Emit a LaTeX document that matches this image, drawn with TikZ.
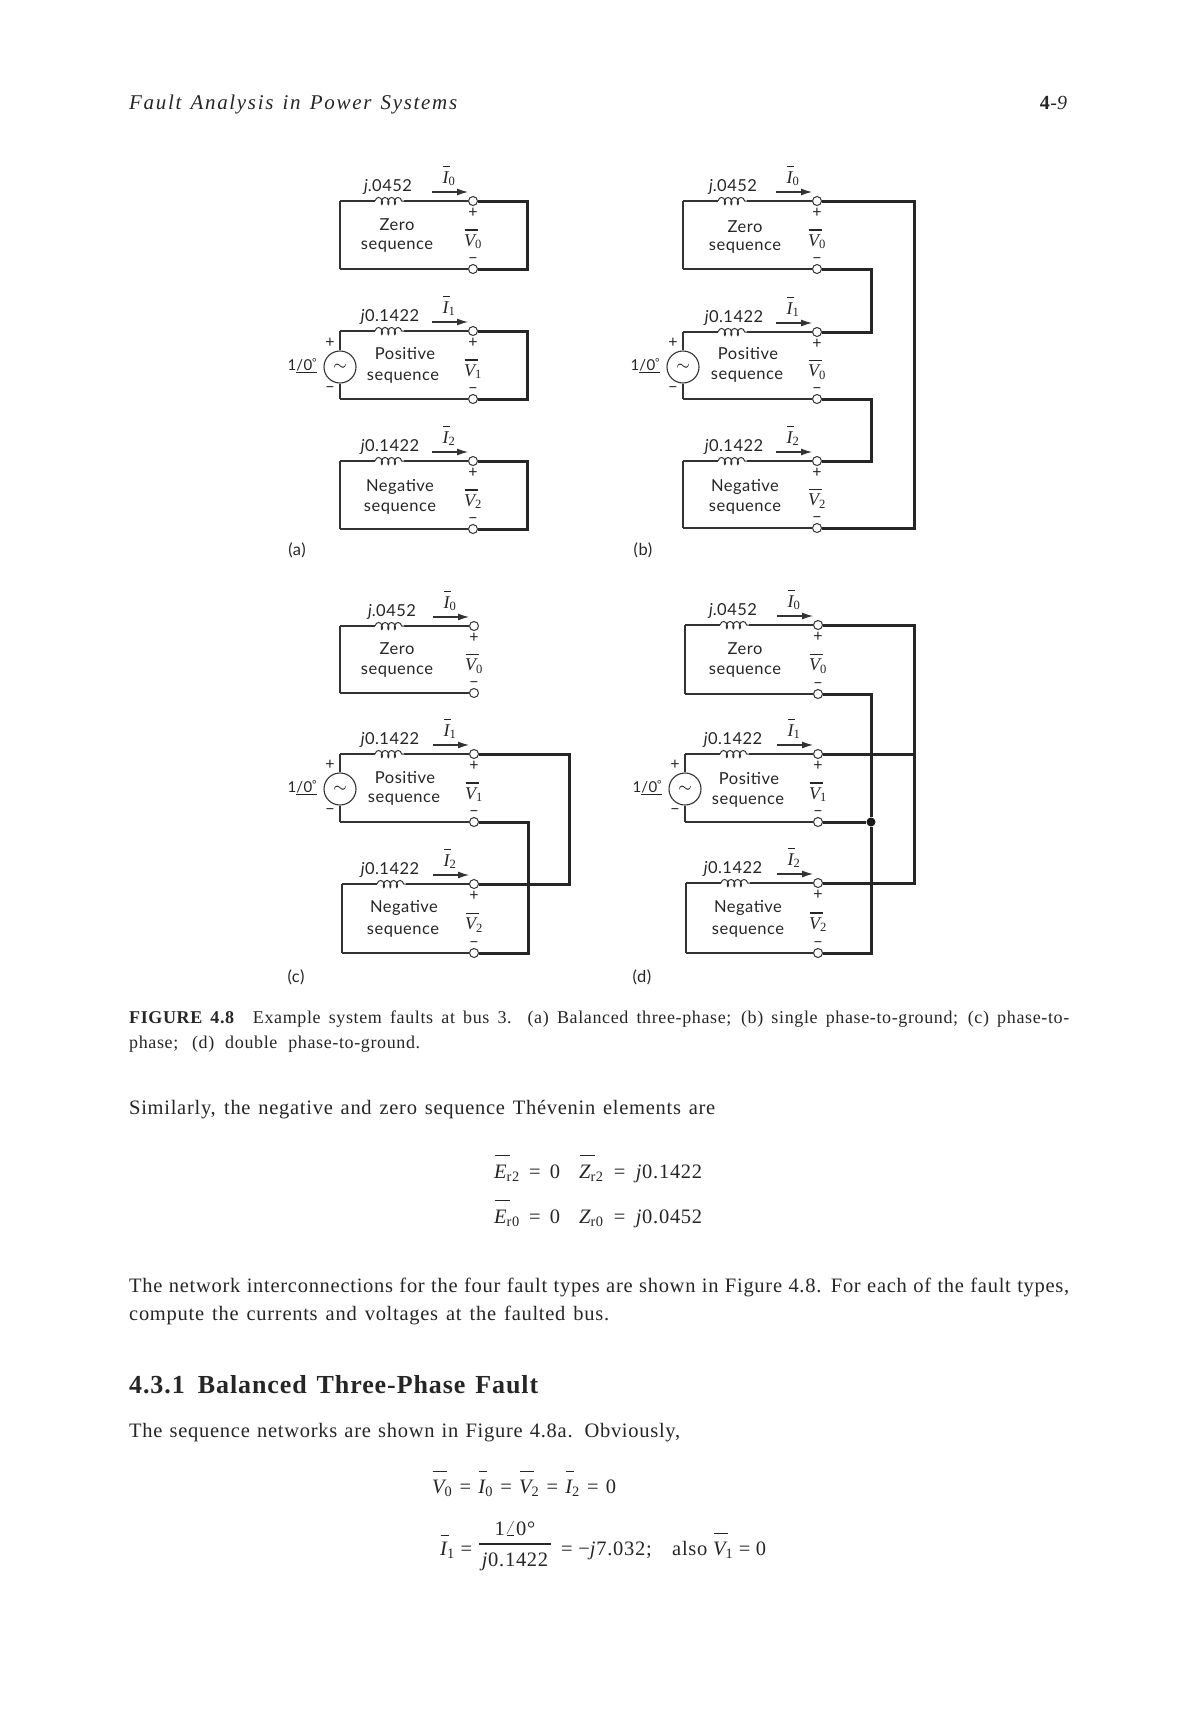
\documentclass[tikz,border=0pt]{standalone}
\usepackage{fontspec}
\setmainfont[LetterSpace=3.5]{Liberation Serif}
\newfontfamily\figfont[LetterSpace=3]{Lato}
\usetikzlibrary{arrows.meta,decorations.pathmorphing}
\tikzset{
  wire/.style={line width=1.1pt,draw=black!80},
  faultwire/.style={line width=3pt,draw=black!85,line join=miter},
  coilwire/.style={line width=1pt,draw=black!80,decorate,decoration={coil,aspect=0.55,segment length=6.5pt,amplitude=3.6pt}},
  terminal/.style={circle,draw=black!80,fill=white,line width=1pt,minimum size=9pt,inner sep=0pt},
  sourcenode/.style={circle,draw=black!80,fill=white,line width=1.1pt,minimum size=32pt,inner sep=0pt,font=\figfont\fontsize{16}{16}\selectfont},
  currentarrow/.style={line width=1.2pt,draw=black!80,-{Latex[length=11pt,width=7pt]}},
  figlabel/.style={font=\figfont\fontsize{16.5}{17}\selectfont,inner sep=0pt,text=black!85},
  valuelabel/.style={font=\figfont\fontsize{16.5}{17}\selectfont,inner sep=0pt,text=black!85},
  symlabel/.style={font=\fontsize{18}{18}\selectfont,inner sep=0pt,text=black!85,anchor=base},
  signlabel/.style={font=\figfont\fontsize{16}{16}\selectfont,inner sep=0pt,text=black!85},
  bodytext/.style={font=\fontsize{20.5}{20}\selectfont,anchor=base west,inner sep=0pt,text=black!85},
  captext/.style={font=\fontsize{18}{18}\selectfont,anchor=base west,inner sep=0pt,text=black!85},
  headtext/.style={font=\bfseries\fontsize{26}{26}\selectfont,anchor=base west,inner sep=0pt,text=black!85},
  mathtext/.style={font=\fontsize{20.5}{20}\selectfont,anchor=base west,inner sep=0pt,text=black!85},
  fracrule/.style={line width=1.2pt,draw=black!85},
}
% bar height, bar width, letter
\newcommand{\barsym}[3]{\rlap{\hspace{0.5pt}\raisebox{#1}{\rule{#2}{1.2pt}}}{\itshape #3}}
% id, left, terminal x, top y, bottom y, impedance, impedance x, I subscript, V subscript
\newcommand{\seqnet}[9]{%
  \node[terminal] (#1t) at (#3,#4) {};
  \node[terminal] (#1b) at (#3,#5) {};
  \coordinate (#1tl) at (#2,#4);
  \coordinate (#1bl) at (#2,#5);
  \coordinate (#1cs) at (#2+35,#4);
  \coordinate (#1ce) at (#2+64,#4);
  \coordinate (#1as) at (#3-41,#4-9);
  \coordinate (#1ae) at (#3-5,#4-9);
  \draw[wire] (#1tl) -- (#1cs);
  \draw[coilwire] (#1cs) -- (#1ce);
  \draw[wire] (#1ce) -- (#1t);
  \draw[wire] (#1bl) -- (#1b);
  \draw[currentarrow] (#1as) -- (#1ae);
  \node[valuelabel] (#1z) at (#7,#4-14) {#6};
  \node[symlabel] (#1i) at (#3-24,#4-18) {\barsym{16pt}{7pt}{I}\textsubscript{#8}};
  \node[signlabel] (#1p) at (#3,#4+12) {+};
  \node[symlabel] (#1v) at (#3+0,#4/2+#5/2+11) {\barsym{15.5pt}{13pt}{V}\textsubscript{#9}};
  \node[signlabel] (#1m) at (#3,#5-8) {\char"2212};
}
\newcommand{\closeleft}[1]{\draw[wire] (#1tl) -- (#1bl);}
\newcommand{\withsource}[3]{% id, left, ymid
  \node[sourcenode] (#1s) at (#2,#3) {$\sim$};
  \draw[wire] (#1tl) -- (#1s);
  \draw[wire] (#1bl) -- (#1s);
  \node[signlabel] (#1sp) at (#2-10,#3-24) {+};
  \node[signlabel] (#1sm) at (#2-10,#3+23) {\char"2212};
  \node[valuelabel,anchor=base east,font=\figfont\fontsize{15}{15}\selectfont] (#1sv) at (#2-23,#3+3) {1\underline{/0\raisebox{4pt}{\fontsize{11}{11}\selectfont°}}};
}
\newcommand{\seqwords}[6]{% id, word, x,y, x2,y2
  \node[figlabel] (#1w) at (#3,#4) {#2};
  \node[figlabel] (#1q) at (#5,#6) {sequence};
}
\begin{document}
\begin{tikzpicture}[x=1pt,y=-1pt]
\useasboundingbox (0,0) rectangle (1200,1714);
\fill[white] (0,0) rectangle (1200,1714);
% header
\node[bodytext,font=\itshape\fontsize{21}{21}\selectfont\addfontfeature{LetterSpace=8}] (hdr) at (129,109) {\makebox[328pt][s]{Fault Analysis in Power Systems}};
\node[bodytext,anchor=base east,font=\fontsize{20}{20}\selectfont] (pg) at (1068,109) {\textbf{4}-\textit{9}};
% panel a
\seqnet{a0}{340}{473}{201}{269}{\textit{j}.0452}{388}{0}{0}
\closeleft{a0}
\seqwords{a0}{Zero}{397}{225}{397}{247}
\seqnet{a1}{340}{473}{331}{399}{\textit{j}0.1422}{390}{1}{1}
\withsource{a1}{340}{367}
\seqwords{a1}{Positive}{405}{354}{403}{378}
\seqnet{a2}{340}{473}{461}{529}{\textit{j}0.1422}{390}{2}{2}
\closeleft{a2}
\seqwords{a2}{Negative}{400}{487}{400}{509}
\coordinate (aR0) at (527,235);
\coordinate (aR1) at (527,365);
\coordinate (aR2) at (527,495);
\draw[faultwire] (a0t) -| (aR0) |- (a0b);
\draw[faultwire] (a1t) -| (aR1) |- (a1b);
\draw[faultwire] (a2t) -| (aR2) |- (a2b);
\node[figlabel] (alab) at (297,550) {(a)};
% panel b
\seqnet{b0}{683}{817}{201}{269}{\textit{j}.0452}{733}{0}{0}
\closeleft{b0}
\seqwords{b0}{Zero}{745}{227}{745}{248}
\seqnet{b1}{683}{817}{332}{399}{\textit{j}0.1422}{734}{1}{0}
\withsource{b1}{683}{367}
\seqwords{b1}{Positive}{748}{354}{747}{377}
\seqnet{b2}{683}{817}{461}{528}{\textit{j}0.1422}{734}{2}{2}
\closeleft{b2}
\seqwords{b2}{Negative}{745}{487}{745}{509}
\coordinate (bO) at (914,360);
\coordinate (bI1) at (871,300);
\coordinate (bI2) at (871,430);
\draw[faultwire] (b0t) -| (bO) |- (b2b);
\draw[faultwire] (b0b) -| (bI1) |- (b1t);
\draw[faultwire] (b1b) -| (bI2) |- (b2t);
\node[figlabel] (blab) at (643,550) {(b)};
% panel c
\seqnet{c0}{340}{474}{626}{693}{\textit{j}.0452}{392}{0}{0}
\closeleft{c0}
\seqwords{c0}{Zero}{397}{649}{397}{672}
\seqnet{c1}{340}{474}{754}{822}{\textit{j}0.1422}{390}{1}{1}
\withsource{c1}{340}{789}
\seqwords{c1}{Positive}{405}{778}{404}{800}
\seqnet{c2}{342}{474}{884}{953}{\textit{j}0.1422}{390}{2}{2}
\closeleft{c2}
\seqwords{c2}{Negative}{404}{908}{403}{932}
\coordinate (cO) at (569,820);
\coordinate (cI) at (528,890);
\draw[faultwire] (c1t) -| (cO) |- (c2t);
\draw[faultwire] (c1b) -| (cI) |- (c2b);
\node[figlabel] (clab) at (296,977) {(c)};
% panel d
\seqnet{d0}{685}{818}{625}{694}{\textit{j}.0452}{733}{0}{0}
\closeleft{d0}
\seqwords{d0}{Zero}{745}{649}{745}{672}
\seqnet{d1}{685}{818}{754}{822}{\textit{j}0.1422}{733}{1}{1}
\withsource{d1}{685}{789}
\seqwords{d1}{Positive}{749}{779}{748}{802}
\seqnet{d2}{686}{818}{883}{953}{\textit{j}0.1422}{733}{2}{2}
\closeleft{d2}
\seqwords{d2}{Negative}{748}{908}{748}{932}
\coordinate (dO) at (914,760);
\node[circle,fill=black!90,minimum size=9pt,inner sep=0pt] (dJ) at (871,822) {};
\draw[faultwire] (d0t) -| (dO);
\draw[faultwire] (dO) |- (d2t);
\draw[faultwire] (d1t) -- (dO |- d1t);
\draw[faultwire] (d0b) -| (dJ);
\draw[faultwire] (dJ) |- (d2b);
\draw[faultwire] (d1b) -- (dJ);
\node[figlabel] (dlab) at (642,977) {(d)};
% caption
\node[captext] (cap1) at (129,1023) {\makebox[940pt][s]{\textbf{FIGURE 4.8}\quad Example system faults at bus 3. (a) Balanced three-phase; (b) single phase-to-ground; (c) phase-to-}};
\node[captext] (cap2) at (129,1048) {\makebox[291pt][s]{phase; (d) double phase-to-ground.}};
% body
\node[bodytext] (p1) at (129,1114) {\makebox[586pt][s]{Similarly, the negative and zero sequence Thévenin elements are}};
\node[mathtext] (eq1a) at (494,1178) {\makebox[66pt][s]{\barsym{22pt}{15pt}{E}\textsubscript{r2} = 0}};
\node[mathtext] (eq1b) at (579,1178) {\makebox[123pt][s]{\barsym{22pt}{15pt}{Z}\textsubscript{r2} = \textit{j}0.1422}};
\node[mathtext] (eq2a) at (494,1223) {\makebox[66pt][s]{\barsym{22pt}{15pt}{E}\textsubscript{r0} = 0}};
\node[mathtext] (eq2b) at (579,1223) {\makebox[123pt][s]{{\itshape Z}\textsubscript{r0} = \textit{j}0.0452}};
\node[bodytext] (p2) at (129,1292) {\makebox[940pt][s]{The network interconnections for the four fault types are shown in Figure 4.8. For each of the fault types,}};
\node[bodytext] (p3) at (129,1320) {\makebox[480pt][s]{compute the currents and voltages at the faulted bus.}};
\node[headtext] (h1) at (129,1393) {\makebox[409pt][s]{4.3.1\enspace Balanced Three-Phase Fault}};
\node[bodytext] (p4) at (129,1437) {\makebox[551pt][s]{The sequence networks are shown in Figure 4.8a. Obviously,}};
\node[mathtext] (eq3) at (432,1493) {\makebox[184pt][s]{\barsym{21pt}{14pt}{V}\textsubscript{0} = \barsym{21pt}{8pt}{I}\textsubscript{0} = \barsym{21pt}{14pt}{V}\textsubscript{2} = \barsym{21pt}{8pt}{I}\textsubscript{2} = 0}};
\node[mathtext] (eq4a) at (440,1555) {\barsym{19pt}{8pt}{I}\textsubscript{1} =};
\node[mathtext,anchor=base] (num) at (515,1535) {1$\angle$0°};
\coordinate (fl) at (479,1544);
\coordinate (fr) at (551,1544);
\draw[fracrule] (fl) -- (fr);
\node[mathtext,anchor=base] (den) at (515,1566) {\textit{j}0.1422};
\node[mathtext] (eq4b) at (561,1555) {\makebox[205pt][s]{= \char"2212\textit{j}7.032;\quad also \barsym{21pt}{14pt}{V}\textsubscript{1} = 0}};
\end{tikzpicture}
\end{document}
